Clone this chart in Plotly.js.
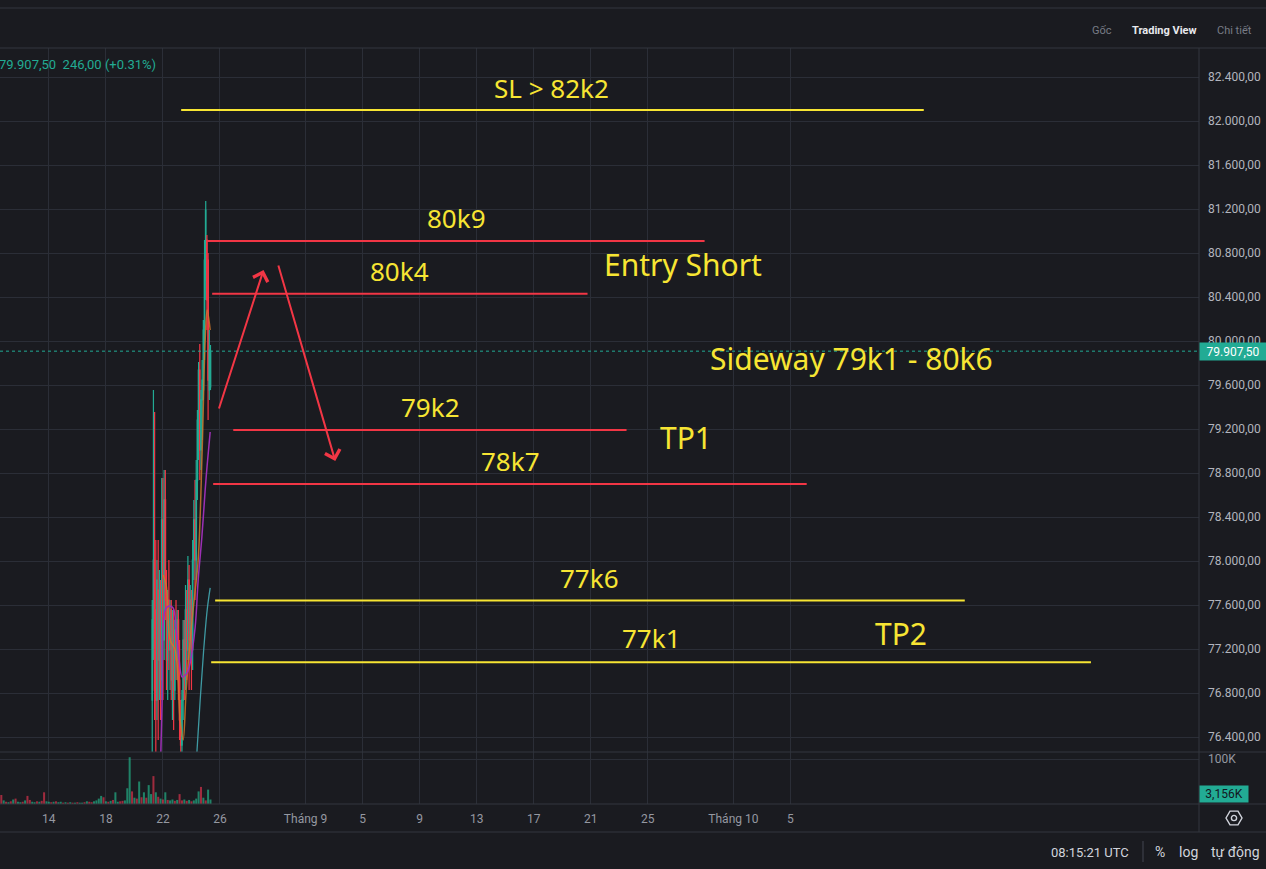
<!DOCTYPE html>
<html>
<head>
<meta charset="utf-8">
<script src="https://cdn.plot.ly/plotly-3.0.1.min.js"></script>
<style>
html,body{margin:0;padding:0;background:#1a1b20;overflow:hidden;}
#chart{width:1266px;height:869px;}
</style>
</head>
<body>
<div id="chart"></div>
<script>
// ---------------- DATA ----------------
// 2-hour candles starting 2025-08-21 06:00
const candleOpen  = [76736,77282,78009,77555,76736,77736,77100,77645,76918,78373,77282,78555,77645,77100,77645,77191,77555,76918,77464,76827,77373,77100,77464,76918,76555,76327,76736,77282,76918,77555,77191,77827,77282,77645,77191,78009,78373,78009,78736,79282,79736,79009,79464,79555,80009,80555,80918,80736,79555,79582];
const candleHigh  = [77645,79555,79355,78191,78009,78191,77918,77827,78755,78755,78827,78827,77918,77736,78009,77645,77645,77555,77555,77464,77645,77555,77555,77282,76736,76827,77464,77464,77782,77736,78045,77964,77782,77736,78191,78555,78736,78918,79373,79809,79973,79555,79827,80191,80918,81273,80964,80800,80100,79964];
const candleLow   = [76191,77100,76555,76191,76555,76373,76736,76555,76736,76736,77100,77464,76827,76736,77009,76827,76736,76555,76464,76736,76918,76918,76736,76373,76009,76009,76555,76736,76827,76918,77100,76827,77100,76827,77009,77827,77645,77827,78555,78918,78736,78827,79100,79464,79827,80373,80100,79282,79464,79555];
const candleClose = [77464,78009,76827,76736,77827,77100,77645,76918,78373,77282,78555,77645,77100,77645,77191,77555,76918,77464,76827,77373,77100,77464,76918,76555,76327,76736,77282,76918,77555,77191,77827,77282,77645,77191,78009,78373,78009,78736,79282,79736,79009,79464,79645,80100,80736,81191,80373,79645,79918,79907.5];

// 4-hour volume bars (thousands) starting 2025-08-10 16:00
const volumeK = [20,8,5,4,6,10,12,5,4,5, 8,18,9,5,4,6,5,7,26,6, 5,4,5,6,4,5,3,4,3,4, 3,3,4,3,3,4,6,5,4,6,
                 8,12,18,15,6,5,7,9,26,5, 6,7,8,35,104,28,14,12,50,15, 26,14,42,22,62,26,16,12,10,26,
                 9,8,10,7,9,22,8,10,7,9, 6,8,12,28,38,14,8,32,10];
const volumeUp = [0,1,0,1,0,1,0,1,1,0, 1,0,0,1,1,0,1,0,0,1, 1,0,1,0,1,1,0,1,0,1, 0,1,0,1,1,0,1,0,0,1,
                  1,1,1,0,1,0,1,0,1,1, 0,0,1,1,1,0,1,0,1,0, 1,0,1,1,0,1,0,1,0,1,
                  0,1,1,0,1,0,0,1,0,1, 0,1,1,1,0,1,0,1,1];

// indicator lines
const maSlowTime  = ['2025-08-21 19:18','2025-08-21 22:40','2025-08-22 03:43','2025-08-22 10:27','2025-08-22 17:11','2025-08-22 22:13','2025-08-23 03:17','2025-08-23 08:20','2025-08-23 13:23','2025-08-23 16:45','2025-08-23 21:49','2025-08-24 06:14','2025-08-24 11:18','2025-08-24 17:31','2025-08-24 23:04','2025-08-25 02:27','2025-08-25 07:29'];
const maSlowValue = [76009,76736,77555,77591,77573,77373,77100,76945,76964,76982,77073,77400,77827,78218,78645,78873,79173];
const maFastTime  = ['2025-08-22 00:20','2025-08-22 05:24','2025-08-22 12:07','2025-08-22 20:33','2025-08-23 04:58','2025-08-23 10:02','2025-08-23 15:04','2025-08-23 21:49','2025-08-24 04:32','2025-08-24 11:18','2025-08-24 18:01','2025-08-24 23:04','2025-08-25 02:27','2025-08-25 07:29'];
const maFastValue = [77873,77782,77282,77191,76555,76373,76827,77282,77645,78009,79009,80009,80282,80100];
const bandTime  = ['2025-08-24 06:14','2025-08-24 14:40','2025-08-24 20:33','2025-08-25 02:27','2025-08-25 07:29'];
const bandValue = [76009,76736,77191,77555,77755];

// drawn levels
const levelPrice = [82100,80910,80430,79190,78700,77640,77080];
const levelStart = ['2025-08-23 06:40','2025-08-25 02:25','2025-08-25 10:50','2025-08-26 22:20','2025-08-25 12:30','2025-08-25 15:50','2025-08-25 09:10'];
const levelEnd   = ['2025-10-14 08:20','2025-09-28 23:30','2025-09-20 18:30','2025-09-23 12:10','2025-10-06 03:20','2025-10-17 05:20','2025-10-26 01:40'];

// text notes
const noteText  = ['SL > 82k2','80k9','80k4','Entry Short','Sideway 79k1 - 80k6','79k2','TP1','78k7','77k6','77k1','TP2'];
const noteTime  = ['2025-09-18 05:45','2025-09-11 13:50','2025-09-07 13:50','2025-09-27 10:20','2025-10-09 07:00','2025-09-09 18:00','2025-09-27 15:35','2025-09-15 08:40','2025-09-20 21:50','2025-09-25 06:15','2025-10-12 17:30'];
const notePrice = [82300,81118,80636,80700,79845,79400,79127,78909,77845,77300,77345];

// arrows
const arrowFromTime  = ['2025-08-25 21:30','2025-08-30 01:30'];
const arrowFromPrice = [79373,80700];
const arrowToTime    = ['2025-08-29 01:15','2025-09-03 02:00'];
const arrowToPrice   = [80645,78909];

// last values
const lastPrice = 79907.5;
const lastChange = 246.00;
const lastChangePct = 0.31;
const lastVolumeK = 3.156;

// axes
const timeTickDates  = ['2025-08-14','2025-08-18','2025-08-22','2025-08-26','2025-09-01','2025-09-05','2025-09-09','2025-09-13','2025-09-17','2025-09-21','2025-09-25','2025-10-01','2025-10-05'];
const timeTickLabels = ['14','18','22','26','Tháng 9','5','9','13','17','21','25','Tháng 10','5'];
const priceTicks = [76400,76800,77200,77600,78000,78400,78800,79200,79600,80000,80400,80800,81200,81600,82000,82400];
const volumeTicks = [100];
const volumeTickLabels = ['100K'];

// ---------------- STYLE ----------------
const BG = '#1a1b20', GRID = '#2b2e37', BORDER = '#33363f';
const UP = '#22ab94', DN = '#f23645';
const YELLOW = '#f7e533', RED = '#f23645';
const levelColor = [YELLOW, RED, RED, RED, RED, YELLOW, YELLOW];
const noteSize = [26,26,26,30,30,26,30,26,26,26,30];
const HOUR = 3600000;

function stamp(ms){ return new Date(ms).toISOString().slice(0,16).replace('T',' '); }
const candleTime = candleOpen.map((_, i) => stamp(Date.UTC(2025,7,21,6) + i*2*HOUR));
const volumeTime = volumeK.map((_, i) => stamp(Date.UTC(2025,7,10,16) + i*4*HOUR));

const fmt = (v) => v.toFixed(2).replace('.', ',').replace(/\B(?=(\d{3})+(?!\d))/g, '.');

const traces = [
  {type:'scatter', mode:'lines', x:maFastTime, y:maFastValue, xaxis:'x', yaxis:'y',
   line:{color:'rgba(205,120,45,0.85)', width:1.5, shape:'spline'}, hoverinfo:'skip'},
  {type:'candlestick', x:candleTime, open:candleOpen, high:candleHigh, low:candleLow, close:candleClose,
   xaxis:'x', yaxis:'y', whiskerwidth:0,
   increasing:{line:{color:UP, width:1.2}, fillcolor:UP},
   decreasing:{line:{color:DN, width:1.2}, fillcolor:DN}, hoverinfo:'skip'},
  {type:'scatter', mode:'lines', x:maSlowTime, y:maSlowValue, xaxis:'x', yaxis:'y',
   line:{color:'#9c30b4', width:1.5, shape:'spline'}, hoverinfo:'skip'},
  {type:'scatter', mode:'lines', x:bandTime, y:bandValue, xaxis:'x', yaxis:'y',
   line:{color:'#3f9aa3', width:1.3, shape:'spline'}, hoverinfo:'skip'},
  {type:'bar', x:volumeTime, y:volumeK, xaxis:'x', yaxis:'y2',
   marker:{color:volumeUp.map(u => u ? 'rgba(34,171,130,0.72)' : 'rgba(242,54,80,0.62)'), line:{width:0}},
   hoverinfo:'skip'}
];

const shapes = [];
levelPrice.forEach((p, i) => shapes.push({type:'line', xref:'x', yref:'y', x0:levelStart[i], x1:levelEnd[i], y0:p, y1:p,
  line:{color:levelColor[i], width:2}}));
shapes.push({type:'line', xref:'paper', yref:'y', x0:0, x1:1, y0:lastPrice, y1:lastPrice, line:{color:UP, width:1, dash:'dot'}});
// frame lines
const PX = (px) => px/1199, PY = (py) => (804-py)/756;
[8, 48, 752, 804, 832].forEach(py => shapes.push({type:'line', xref:'paper', yref:'paper', x0:0, x1:PX(1266), y0:PY(py), y1:PY(py), line:{color:BORDER, width:1}}));
shapes.push({type:'line', xref:'paper', yref:'paper', x0:1, x1:1, y0:PY(832), y1:PY(48), line:{color:BORDER, width:1}});
shapes.push({type:'line', xref:'paper', yref:'paper', x0:PX(1143), x1:PX(1143), y0:PY(841), y1:PY(862), line:{color:'#434651', width:1}});
// settings icon
shapes.push({type:'path', xref:'paper', yref:'paper', xsizemode:'pixel', ysizemode:'pixel', xanchor:PX(1234), yanchor:PY(818),
  path:'M-8,0 L-4,6.9 L4,6.9 L8,0 L4,-6.9 L-4,-6.9 Z', line:{color:'#d1d4dc', width:1.4}});
shapes.push({type:'circle', xref:'paper', yref:'paper', xsizemode:'pixel', ysizemode:'pixel', xanchor:PX(1234), yanchor:PY(818),
  x0:-2.6, x1:2.6, y0:-2.6, y1:2.6, line:{color:'#d1d4dc', width:1.4}});

const TXT = '"Noto Sans", Roboto, sans-serif';
const annotations = [];
noteText.forEach((t, i) => annotations.push({xref:'x', yref:'y', x:noteTime[i], y:notePrice[i], text:t, showarrow:false,
  xanchor:'center', yanchor:'middle', font:{family:TXT, size:noteSize[i], color:YELLOW}}));
arrowToTime.forEach((t, i) => annotations.push({xref:'x', yref:'y', axref:'x', ayref:'y', x:t, y:arrowToPrice[i],
  ax:arrowFromTime[i], ay:arrowFromPrice[i], text:'', showarrow:true, arrowhead:4, arrowsize:1.5, arrowwidth:2,
  arrowcolor:RED, standoff:0, startstandoff:0}));
// header and status texts
const stat = (px, py, text, font) => annotations.push({xref:'paper', yref:'paper', x:PX(px), y:PY(py), xanchor:'center', yanchor:'middle',
  showarrow:false, text:text, font:font});
annotations.push({xref:'paper', yref:'paper', x:PX(-3), y:PY(65), xanchor:'left', yanchor:'middle', showarrow:false,
  text: fmt(lastPrice) + '  ' + fmt(lastChange) + ' (+' + lastChangePct.toFixed(2) + '%)', font:{family:'Roboto', size:13, color:UP}});
stat(1102, 30, 'Gốc', {family:'Roboto', size:11, color:'#787b86'});
stat(1164, 30, 'Trading View', {family:'Roboto', size:11, color:'#e8e9ed', weight:'bold'});
stat(1234, 30, 'Chi tiết', {family:'Roboto', size:11, color:'#787b86'});
stat(1090, 852, '08:15:21 UTC', {family:'Roboto', size:13, color:'#d1d4dc'});
stat(1160, 852, '%', {family:'Roboto', size:14, color:'#d1d4dc'});
stat(1188, 852, 'log', {family:'Roboto', size:14, color:'#d1d4dc'});
stat(1235, 852, 'tự động', {family:'Roboto', size:14, color:'#d1d4dc'});
annotations.push({xref:'paper', yref:'y', x:1, y:lastPrice, xanchor:'left', yanchor:'middle', showarrow:false, text:fmt(lastPrice),
  bgcolor:UP, width:64, height:15, borderpad:1, align:'center', font:{family:'Roboto', size:12, color:'#ffffff'}});
annotations.push({xref:'paper', yref:'y2', x:1, y:lastVolumeK, xanchor:'left', yanchor:'bottom', showarrow:false,
  text:lastVolumeK.toFixed(3).replace('.', ',') + 'K', bgcolor:UP, width:46, height:14, borderpad:1, align:'center',
  font:{family:'Roboto', size:12, color:'#131722'}});

const layout = {
  width:1266, height:869, margin:{l:0, r:67, t:48, b:65},
  paper_bgcolor:BG, plot_bgcolor:BG, showlegend:false, hovermode:false, dragmode:false,
  separators:',.', bargap:0.15,
  font:{family:'Roboto, sans-serif', color:'#b2b5be'},
  xaxis:{type:'date', anchor:'y2', range:['2025-08-10 13:48','2025-11-02 15:30'], tickvals:timeTickDates, ticktext:timeTickLabels,
    showgrid:true, gridcolor:GRID, gridwidth:1, zeroline:false, showline:false, ticks:'', ticklabelstandoff:6,
    tickfont:{size:12, color:'#9598a1'}, rangeslider:{visible:false}, fixedrange:true},
  yaxis:{domain:[PY(752), 1], range:[76263.6, 82663.6], side:'right', anchor:'x', tickvals:priceTicks, tickformat:',.2f',
    showgrid:true, gridcolor:GRID, zeroline:false, showline:false, ticks:'', ticklabelstandoff:8,
    tickfont:{size:12, color:'#b2b5be'}, fixedrange:true},
  yaxis2:{domain:[0, PY(752)], range:[0, 115.6], side:'right', anchor:'x', tickvals:volumeTicks, ticktext:volumeTickLabels,
    showgrid:true, gridcolor:GRID, zeroline:false, showline:false, ticks:'', ticklabelstandoff:8,
    tickfont:{size:12, color:'#9598a1'}, fixedrange:true},
  shapes:shapes, annotations:annotations
};

Plotly.newPlot('chart', traces, layout, {staticPlot:true, displayModeBar:false});
</script>
</body>
</html>
